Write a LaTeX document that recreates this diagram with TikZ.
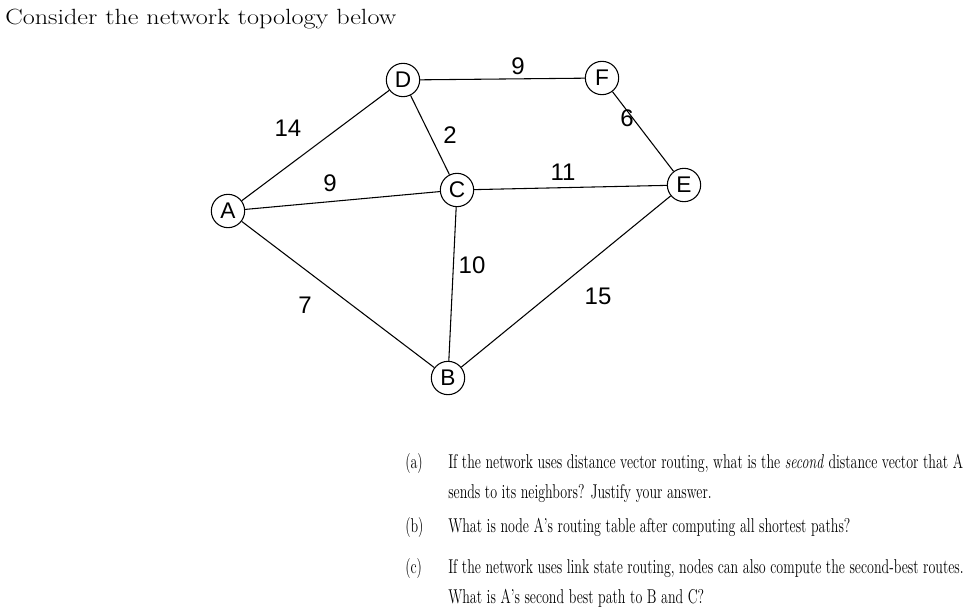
\documentclass[tikz,border=0pt]{standalone}
\usepackage{fontspec}
\newfontfamily\sansf{Liberation Sans}
\newcommand{\qline}[1]{\scalebox{0.84}[1.2]{#1}}
\begin{document}
\begin{tikzpicture}[x=0.75pt,y=-0.75pt,
  vtx/.style={circle,draw,thick,minimum size=25pt,inner sep=0pt,font=\sansf\fontsize{17}{17}\selectfont},
  edge/.style={thick},
  wt/.style={font=\sansf\fontsize{18}{18}\selectfont},
  txt/.style={anchor=base west,inner sep=0pt,font=\fontsize{12.5}{16}\selectfont}]
\useasboundingbox (0,0) rectangle (972,614);
\node[anchor=base west,inner sep=0pt,font=\fontsize{16.5}{20}\selectfont] (t0) at (5,24) {\scalebox{1.19}[1]{Consider the network topology below}};
\node[vtx] (A) at (228,211) {A};
\node[vtx] (D) at (403,80) {D};
\node[vtx] (F) at (602,78) {F};
\node[vtx] (C) at (457,190) {C};
\node[vtx] (E) at (684,185) {E};
\node[vtx] (B) at (448,378) {B};
\draw[edge] (A)--(D); \draw[edge] (A)--(C); \draw[edge] (A)--(B);
\draw[edge] (D)--(F); \draw[edge] (D)--(C); \draw[edge] (F)--(E);
\draw[edge] (C)--(E); \draw[edge] (C)--(B); \draw[edge] (B)--(E);
\node[wt] (w1) at (288,128) {14};
\node[wt] (w2) at (518,66) {9};
\node[wt] (w3) at (450,135) {2};
\node[wt] (w4) at (627,118) {6};
\node[wt] (w5) at (330,183) {9};
\node[wt] (w6) at (563,172) {11};
\node[wt] (w7) at (472,265) {10};
\node[wt] (w8) at (305,305) {7};
\node[wt] (w9) at (598,296) {15};
\node[txt] (la) at (405,468) {\qline{(a)}};
\node[txt] (a1) at (448,468) {\qline{If the network uses distance vector routing, what is the \textit{second} distance vector that A}};
\node[txt] (a2) at (448,498) {\qline{sends to its neighbors? Justify your answer.}};
\node[txt] (lb) at (405,532) {\qline{(b)}};
\node[txt] (b1) at (448,532) {\qline{What is node A's routing table after computing all shortest paths?}};
\node[txt] (lc) at (405,573) {\qline{(c)}};
\node[txt] (c1) at (448,573) {\qline{If the network uses link state routing, nodes can also compute the second-best routes.}};
\node[txt] (c2) at (448,603) {\qline{What is A's second best path to B and C?}};
\end{tikzpicture}
\end{document}
